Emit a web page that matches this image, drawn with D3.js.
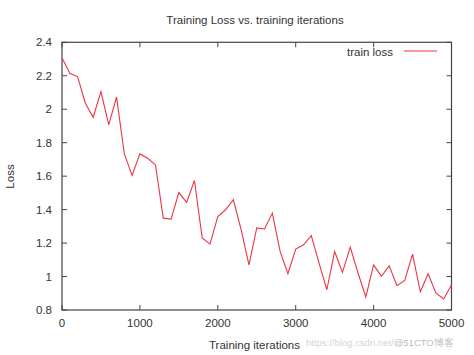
<!DOCTYPE html>
<html><head><meta charset="utf-8">
<script src="https://cdn.jsdelivr.net/npm/d3@7"></script>
<style>
html,body{margin:0;padding:0;background:#fff;}
text{font-family:"Liberation Sans",Arial,sans-serif;}
</style></head>
<body><svg id="c" width="474" height="355"></svg>
<script>
const iterations = d3.range(0, 5001, 100);
const trainLoss = [2.308,2.215,2.195,2.036,1.952,2.105,1.906,2.072,1.733,1.605,
  1.733,1.707,1.667,1.349,1.343,1.502,1.443,1.574,1.230,1.194,
  1.359,1.399,1.459,1.279,1.069,1.291,1.284,1.379,1.150,1.017,
  1.164,1.190,1.244,1.080,0.921,1.150,1.025,1.176,1.021,0.878,
  1.070,1.001,1.064,0.945,0.977,1.134,0.909,1.017,0.901,0.866,0.951];
const xTicks = [0,1000,2000,3000,4000,5000];
const yTicks = [0.8,1,1.2,1.4,1.6,1.8,2,2.2,2.4];
const titleText = "Training Loss vs. training iterations";
const xLabel = "Training iterations";
const yLabel = "Loss";
const seriesName = "train loss";

const L=62, R=451.5, T=42.3, B=310;
const svg = d3.select("#c");
const x = d3.scaleLinear().domain([0,5000]).range([L,R]);
const y = d3.scaleLinear().domain([0.8,2.4]).range([B,T]);
const frame="#444";
const red="#ec3442";

// ticks (mirrored, inward)
const tk=5;
const gAx = svg.append("g");
xTicks.forEach(v=>{
  gAx.append("line").attr("x1",x(v)).attr("x2",x(v)).attr("y1",B).attr("y2",B-tk).attr("stroke",frame);
  gAx.append("line").attr("x1",x(v)).attr("x2",x(v)).attr("y1",T).attr("y2",T+tk).attr("stroke",frame);
  gAx.append("text").attr("x",x(v)).attr("y",B+16.5).attr("text-anchor","middle")
    .attr("font-size","11.5px").attr("fill","#333").text(d3.format("d")(v));
});
yTicks.forEach(v=>{
  gAx.append("line").attr("x1",L).attr("x2",L+tk).attr("y1",y(v)).attr("y2",y(v)).attr("stroke",frame);
  gAx.append("line").attr("x1",R).attr("x2",R-tk).attr("y1",y(v)).attr("y2",y(v)).attr("stroke",frame);
  gAx.append("text").attr("x",L-10).attr("y",y(v)+4).attr("text-anchor","end")
    .attr("font-size","11.5px").attr("fill","#333").text(v);
});
svg.append("rect").attr("x",L).attr("y",T).attr("width",R-L).attr("height",B-T)
  .attr("fill","none").attr("stroke",frame).attr("stroke-width",1.2);

// line
const line = d3.line().x((d,i)=>x(iterations[i])).y(d=>y(d));
svg.append("path").datum(trainLoss).attr("d",line).attr("fill","none")
  .attr("stroke",red).attr("stroke-width",1.1).attr("stroke-linejoin","miter");

// legend
svg.append("text").attr("x",393).attr("y",55.5).attr("text-anchor","end")
  .attr("font-size","11.5px").attr("fill","#333").text(seriesName);
svg.append("line").attr("x1",404).attr("x2",437).attr("y1",51).attr("y2",51)
  .attr("stroke",red).attr("stroke-width",1.1);

// titles
svg.append("text").attr("x",255).attr("y",24).attr("text-anchor","middle")
  .attr("font-size","11.5px").attr("fill","#333").text(titleText);
svg.append("text").attr("x",254.5).attr("y",348.5).attr("text-anchor","middle")
  .attr("font-size","11.5px").attr("fill","#333").text(xLabel);
svg.append("text").attr("transform","translate(14,176.5) rotate(-90)").attr("text-anchor","middle")
  .attr("font-size","11.5px").attr("fill","#333").text(yLabel);

// watermark (single text, one font, two tones)
const wm = svg.append("text").attr("x",306).attr("y",346)
  .attr("font-size","9.5px").attr("font-family","'Noto Sans CJK SC',sans-serif");
wm.append("tspan").attr("fill","#d4d4d4").text("https://blog.csdn.net/");
wm.append("tspan").attr("fill","#bdbdbd").text("@51CTO博客");
</script></body></html>
